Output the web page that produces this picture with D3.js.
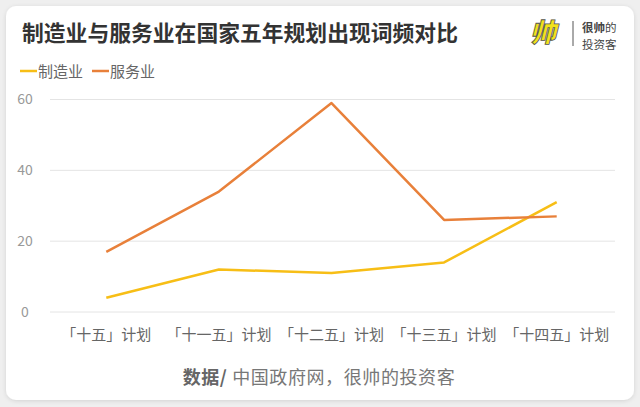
<!DOCTYPE html>
<html>
<head>
<meta charset="utf-8">
<script src="https://cdn.jsdelivr.net/npm/d3@7"></script>
<style>
  html, body { margin: 0; padding: 0; background: #efefef; }
  #chart { width: 640px; height: 407px; }
  text { font-family: "Noto Sans CJK SC", "Noto Sans", sans-serif; }
</style>
</head>
<body>
<div id="chart"></div>
<script>
// 五年规划
const plans = ["「十五」计划", "「十一五」计划", "「十二五」计划", "「十三五」计划", "「十四五」计划"];
const manufacturing = [4, 12, 11, 14, 31];
const services = [17, 34, 59, 26, 27];
const yTicks = [0, 20, 40, 60];
const seriesNames = ["制造业", "服务业"];
const seriesColors = ["#F7BE16", "#E8803A"];

const W = 640, H = 407;
const svg = d3.select("#chart").append("svg")
    .attr("width", W)
    .attr("height", H);

// 卡片阴影
const defs = svg.append("defs");
const f = defs.append("filter").attr("id", "shadow").attr("x", "-5%").attr("y", "-5%").attr("width", "110%").attr("height", "110%");
f.append("feDropShadow").attr("dx", 0).attr("dy", 1).attr("stdDeviation", 2).attr("flood-color", "#000").attr("flood-opacity", 0.12);

svg.append("rect")
    .attr("x", 6).attr("y", 6)
    .attr("width", 628).attr("height", 394)
    .attr("rx", 10)
    .attr("fill", "#fff")
    .attr("filter", "url(#shadow)");

// 标题
svg.append("text")
    .attr("x", 22).attr("y", 41)
    .attr("font-size", "21.8px")
    .attr("font-weight", "bold")
    .attr("fill", "#333")
    .text("制造业与服务业在国家五年规划出现词频对比");

// logo
svg.append("text")
    .attr("x", 530).attr("y", 42)
    .attr("font-size", "26px")
    .attr("font-weight", "900")
    .attr("font-style", "italic")
    .attr("fill", "#F2E21B")
    .attr("stroke", "#555")
    .attr("stroke-width", 0.8)
    .text("帅");
svg.append("line")
    .attr("x1", 573).attr("x2", 573)
    .attr("y1", 21).attr("y2", 46)
    .attr("stroke", "#555").attr("stroke-width", 1);
const logo1 = svg.append("text")
    .attr("x", 582).attr("y", 31.5)
    .attr("font-size", "11.5px")
    .attr("fill", "#444");
logo1.append("tspan").attr("font-weight", "bold").text("很帅");
logo1.append("tspan").text("的");
svg.append("text")
    .attr("x", 582).attr("y", 48.5)
    .attr("font-size", "11.5px")
    .attr("fill", "#444")
    .text("投资客");

// 图例
const legend = svg.append("g").attr("transform", "translate(20,71)");
let lx = 0;
seriesNames.forEach((name, i) => {
    legend.append("line")
        .attr("x1", lx).attr("x2", lx + 17)
        .attr("y1", 0).attr("y2", 0)
        .attr("stroke", seriesColors[i])
        .attr("stroke-width", 2.5);
    legend.append("text")
        .attr("x", lx + 18).attr("y", 5.5)
        .attr("font-size", "15px")
        .attr("fill", "#666")
        .text(name);
    lx += 72;
});

// 比例尺
const x = d3.scaleBand()
    .domain(plans)
    .range([50, 613]);

const y = d3.scaleLinear()
    .domain([0, 60])
    .range([312, 99.5]);

// 网格线
svg.selectAll(".grid-line")
    .data(yTicks)
    .enter()
    .append("line")
    .attr("class", "grid-line")
    .attr("x1", 50)
    .attr("x2", 615)
    .attr("y1", d => y(d))
    .attr("y2", d => y(d))
    .attr("stroke", "#e4e4e4");

// y 轴
svg.append("g")
    .attr("transform", "translate(25,0)")
    .call(d3.axisLeft(y).tickValues(yTicks).tickSize(0).tickPadding(0))
    .call(g => g.select(".domain").remove())
    .call(g => g.selectAll(".tick text")
        .attr("text-anchor", "middle")
        .attr("fill", "#999")
        .attr("font-size", "14px")
        .attr("font-family", "Noto Sans, sans-serif"));

// x 轴
svg.append("g")
    .attr("transform", "translate(0,312)")
    .call(d3.axisBottom(x).tickSize(0).tickPadding(17))
    .call(g => g.select(".domain").remove())
    .call(g => g.selectAll(".tick text")
        .attr("fill", "#666")
        .attr("font-size", "15px")
        .attr("font-family", "Noto Sans CJK SC, sans-serif"));

// 折线
const line = d3.line()
    .x((d, i) => x(plans[i]) + x.bandwidth() / 2)
    .y(d => y(d));

[manufacturing, services].forEach((data, i) => {
    svg.append("path")
        .datum(data)
        .attr("fill", "none")
        .attr("stroke", seriesColors[i])
        .attr("stroke-width", 2.5)
        .attr("stroke-linejoin", "round")
        .attr("d", line);
});

// 数据来源
const src = svg.append("text")
    .attr("x", 319).attr("y", 384)
    .attr("text-anchor", "middle")
    .attr("font-size", "18px")
    .attr("letter-spacing", "0.6px")
    .attr("fill", "#777");
src.append("tspan").attr("font-weight", "bold").attr("fill", "#666").text("数据/ ");
src.append("tspan").text("中国政府网，很帅的投资客");
</script>
</body>
</html>
